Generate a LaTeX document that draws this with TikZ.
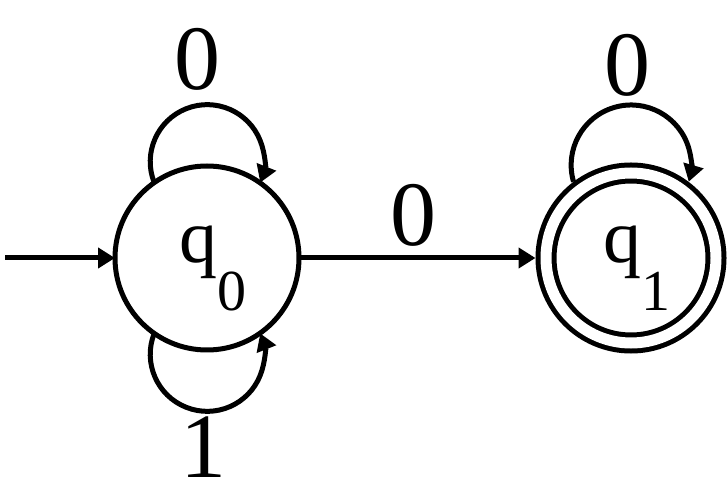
\documentclass[tikz,border=0pt]{standalone}
\usepackage{fontspec}
\setmainfont{Liberation Serif}
\usetikzlibrary{arrows.meta}

\newcommand{\statelab}[2]{\hspace{6pt}\rule{0pt}{29pt}{\fontsize{38}{40}\selectfont #1\raisebox{-24pt}{\fontsize{29}{30}\selectfont #2}}}

\tikzset{
    statenode/.style={circle, draw, line width=2.5pt, minimum size=92pt, inner sep=0pt, outer sep=0pt},
    acceptnode/.style={statenode, double=white, double distance=5.5pt, minimum size=85pt, outer sep=5.25pt},
    trans/.style={line width=2.5pt, ->},
    symlab/.style={inner sep=0pt, font=\fontsize{46}{50}\selectfont}
}

\begin{document}
\begin{tikzpicture}[x=0.5pt, y=0.5pt, >={Triangle[length=8.5pt, width=10pt]}]
    \useasboundingbox[fill=white] (0, 0) rectangle (728, 482);

    % states
    \node[statenode] (q0) at (207, 224) {\statelab{q}{0}};
    \node[acceptnode] (q1) at (631, 224) {\statelab{q}{1}};

    % start arrow
    \coordinate (init) at (5, 224);
    \draw[trans] (init) -- (q0);

    % q0 -> q1
    \draw[trans] (q0) -- (q1);
    \node[symlab] (l01) at (413, 267) {0};

    % loops on q0
    \draw[trans] (q0.125) arc[start angle=201.6, end angle=-21.6, radius=57];
    \node[symlab] (l00) at (197, 423) {0};
    \draw[trans] (q0.235) arc[start angle=158.4, end angle=381.6, radius=57];
    \node[symlab] (l00b) at (203, 35) {1};

    % loop on q1
    \draw[trans] (q1.127) arc[start angle=196.2, end angle=-16.2, radius=60];
    \node[symlab] (l11) at (627, 417) {0};
\end{tikzpicture}
\end{document}
